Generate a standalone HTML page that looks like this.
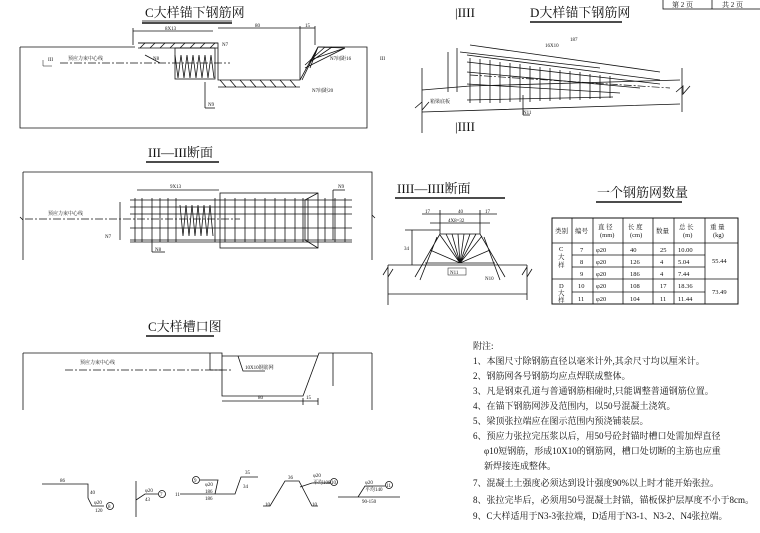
<!DOCTYPE html>
<html><head><meta charset="utf-8"><style>
body{margin:0;background:#fff;width:760px;height:533px;overflow:hidden}
svg{display:block}
text{font-family:"Liberation Serif","Noto Serif CJK SC","Noto Sans CJK SC",serif;fill:#111}
.t{font-size:13px}
.s{font-size:5px}
.n{font-size:9px}
line,path,polyline,rect,polygon,circle{stroke:#111;fill:none;stroke-width:0.8}
.th{stroke-width:0.5}
.cl{stroke-dasharray:8 2 2 2;stroke-width:0.7}
</style></head><body>
<svg width="760" height="533" viewBox="0 0 760 533">
<rect x="663" y="-1" width="98" height="10"/>
<line x1="712" y1="0" x2="712" y2="9"/>
<text x="672" y="7" style="font-size:7px">第 2 页</text>
<text x="722" y="7" style="font-size:7px">共 2 页</text>

<text class="t" x="145" y="17">C大样锚下钢筋网</text>
<line x1="142" y1="21" x2="232" y2="21"/><line x1="142" y1="23" x2="232" y2="23" style="stroke-width:1.5"/>
<path d="M20 47 H135 M20 47 V128 H367 V47 H318 L300 80 H218 V43 H138"/>
<path d="M138 43 L218 43 M138 48 L218 48"/>
<g class="th">
<path d="M140 48l5-5M150 48l5-5M160 48l5-5M170 48l5-5M180 48l5-5M190 48l5-5M200 48l5-5M210 48l5-5"/>
<path d="M218 87 H300 M220 80l6 7M230 80l6 7M240 80l6 7M250 80l6 7M260 80l6 7M270 80l6 7M280 80l6 7M290 80l6 7"/>
<polyline points="175,55 178,78 181,55 184,78 187,55 190,78 193,55 196,78 199,55 202,78 205,55 208,78 211,55 214,78"/>
<rect x="175" y="48" width="40" height="31"/>
<path d="M318 47 L345 48 M310 60 L345 48 M305 68 L345 48 M318 47 L310 68 M325 47 L305 65 M332 47 L310 62 M302 80 L318 47"/>
<line x1="133" y1="31" x2="213" y2="31"/><line x1="218" y1="28" x2="300" y2="28"/><line x1="300" y1="28" x2="315" y2="28"/>
<line x1="133" y1="28" x2="133" y2="45"/><line x1="300" y1="26" x2="300" y2="80"/><line x1="315" y1="26" x2="315" y2="45"/>
<line x1="205" y1="82" x2="205" y2="108"/><line x1="205" y1="108" x2="215" y2="108"/>
<line x1="145" y1="55" x2="160" y2="63"/>
</g>
<line class="cl" x1="60" y1="63" x2="230" y2="63"/>
<text class="s" x="68" y="60">预应力束中心线</text>
<text class="s" x="48" y="61">III</text><path class="th" d="M43 66 V60 M43 66 H52"/>
<text class="s" x="165" y="30">8X13</text><text class="s" x="255" y="27">80</text><text class="s" x="305" y="27">15</text>
<text class="s" x="153" y="60">N8</text><text class="s" x="208" y="106">N9</text><text class="s" x="222" y="46">N7</text>
<text class="s" x="312" y="92">N7间距20</text><text class="s" x="330" y="60">N7间距16</text>
<text class="s" x="380" y="60">III</text>

<text class="t" x="455" y="17">|IIII</text>
<text class="t" x="530" y="17">D大样锚下钢筋网</text>
<line x1="530" y1="22" x2="622" y2="22" style="stroke-width:1.5"/>
<path d="M422 68 V133 M682 68 V112 M422 90 L470 86 M470 86 L680 80 M422 112 L680 104 M415 108 l7-6 0 8 7-8 M676 92 l7-6 0 8 7-8"/>
<g class="th">
<path d="M467 55 L660 80 M467 62 L660 84 M467 72 L640 88 M467 84 L620 93 M467 100 L613 97 M470 45 L660 72 M460 52 L600 68"/>
<path d="M470 58V103M480 59V103M490 60V103M500 62V103M510 63V102M520 64V102M530 66V102M540 67V101M550 68V101M560 70V100M570 71V100M580 72V100M590 74V99M600 75V99M610 76V98"/>
<line x1="457" y1="48" x2="457" y2="92"/><line x1="448" y1="52" x2="448" y2="92"/>
<line x1="523" y1="95" x2="523" y2="115"/><line x1="523" y1="115" x2="530" y2="115"/>
</g>
<line class="cl" x1="470" y1="75" x2="670" y2="88"/>
<text class="s" x="570" y="41">187</text><text class="s" x="545" y="47">16X10</text>
<text class="s" x="430" y="103">箱梁底板</text><text class="s" x="523" y="114">N11</text>
<text class="t" x="455" y="131">|IIII</text>

<text class="t" x="148" y="157">III—III断面</text>
<line x1="146" y1="162" x2="219" y2="162" style="stroke-width:1.5"/>
<path d="M23 172 H372 V260 M23 172 V260 M23 220 l-3 -3 M372 215 l3 3"/>
<g class="th">
<path d="M130 200 H352 M130 207 H352 M130 214 H352 M130 228 H352 M130 240 H352 M130 242 H352"/>
<path d="M135 198V242M142 198V242M152 198V242M160 198V242M168 198V242M176 198V242M215 198V242M225 198V242M235 198V242M245 198V242M255 198V242M265 198V242M275 198V242M285 198V242M295 198V242M303 198V242M308 198V242M325 198V242M335 198V242M345 198V242"/>
<polyline points="180,205 183,236 186,205 189,236 192,205 195,236 198,205 201,236 204,205 207,236 210,205 213,236"/>
<rect x="220" y="193" width="98" height="55"/>
<path d="M305 200 L318 193 M305 240 L318 248 M305 200 V240"/>
<line x1="137" y1="190" x2="219" y2="190"/><line x1="120" y1="202" x2="120" y2="240"/>
<line x1="152" y1="240" x2="152" y2="252"/><line x1="152" y1="252" x2="165" y2="252"/>
<line x1="333" y1="190" x2="345" y2="190"/><line x1="333" y1="190" x2="333" y2="240"/>
</g>
<line class="cl" x1="25" y1="219" x2="240" y2="219"/>
<text class="s" x="48" y="215">预应力束中心线</text>
<text class="s" x="170" y="188">9X13</text><text class="s" x="105" y="238">N7</text><text class="s" x="155" y="251">N8</text><text class="s" x="338" y="188">N9</text>

<text class="t" x="397" y="193">IIII—IIII断面</text>
<line x1="395" y1="198" x2="505" y2="198" style="stroke-width:1.5"/>
<path d="M388 265 H527 M388 294 H527 M388 265 V305 M527 265 V300 M383 275 l5-8 0 10 5-8 M522 275 l5-8 0 10 5-8"/>
<path d="M440 234 H480 L505 277 M440 234 L415 277 M437 237 L420 280 M484 237 L500 280"/>
<g class="th">
<path d="M460 263 L440 235 M460 263 L446 234 M460 263 L452 234 M460 263 L458 234 M460 263 L464 234 M460 263 L470 234 M460 263 L476 234 M460 263 L482 236 M460 263 L430 250 M460 263 L425 263 M460 263 L490 250 M460 263 L495 263"/>
<path d="M422 214 H497 M440 210 V234 M480 210 V234 M430 223 H490 M412 230 V265 M405 230 H440"/>
</g>
<text class="s" x="425" y="213">17</text><text class="s" x="458" y="213">40</text><text class="s" x="485" y="213">17</text><text class="s" x="448" y="222">4X8=32</text>
<text class="s" x="404" y="250">34</text>
<rect x="448" y="268" width="18" height="7" class="th"/><text class="s" x="450" y="274">N11</text>
<text class="s" x="485" y="280">N10</text>

<text class="t" x="597" y="197">一个钢筋网数量</text>
<line x1="596" y1="202" x2="682" y2="202" style="stroke-width:1.5"/>
<g class="th">
<rect x="552" y="218" width="186" height="86" style="stroke-width:1"/>
<path d="M572 218V304M593 218V304M623 218V304M653 218V304M674 218V304M705 218V304"/>
<path d="M552 243H738M572 255H705M572 267H705M552 279H738M572 292H705"/>
</g>
<g style="font-size:6.5px">
<text x="555" y="233">类别</text><text x="575" y="233">编号</text><text x="598" y="229">直 径</text><text x="600" y="237">(mm)</text><text x="628" y="229">长 度</text><text x="630" y="237">(cm)</text><text x="656" y="233">数量</text><text x="679" y="229">总 长</text><text x="683" y="237">(m)</text><text x="710" y="229">重 量</text><text x="713" y="237">(kg)</text>
<text x="559" y="251">C</text><text x="558" y="259">大</text><text x="558" y="267">样</text>
<text x="559" y="288">D</text><text x="558" y="295">大</text><text x="558" y="302">样</text>
<text x="580" y="252">7</text><text x="596" y="252">φ20</text><text x="630" y="252">40</text><text x="660" y="252">25</text><text x="678" y="252">10.00</text>
<text x="580" y="264">8</text><text x="596" y="264">φ20</text><text x="630" y="264">126</text><text x="660" y="264">4</text><text x="678" y="264">5.04</text>
<text x="580" y="276">9</text><text x="596" y="276">φ20</text><text x="630" y="276">186</text><text x="660" y="276">4</text><text x="678" y="276">7.44</text>
<text x="578" y="288">10</text><text x="596" y="288">φ20</text><text x="630" y="288">108</text><text x="660" y="288">17</text><text x="678" y="288">18.36</text>
<text x="578" y="301">11</text><text x="596" y="301">φ20</text><text x="630" y="301">104</text><text x="660" y="301">11</text><text x="678" y="301">11.44</text>
<text x="712" y="263">55.44</text><text x="712" y="294">73.49</text>
</g>

<text class="t" x="148" y="331">C大样槽口图</text>
<line x1="146" y1="336" x2="214" y2="336" style="stroke-width:1.5"/>
<path d="M23 353 H222 V396 H303 L319 353 H372 M23 353 V410 M372 353 V410 M222 370 H210"/>
<g class="th">
<path d="M222 356 H318 M238 356 L243 371 H265 M333 353 V386 M210 353 V370 M222 401 H318 M303 398 V405 M318 398 V405"/>
</g>
<line class="cl" x1="65" y1="370" x2="232" y2="370"/>
<text class="s" x="80" y="364">预应力束中心线</text>
<text class="s" x="245" y="369">10X10钢筋网</text>
<text class="s" x="258" y="399">80</text><text class="s" x="306" y="399">15</text>

<g class="n">
<text x="473" y="349">附注:</text>
<text x="473" y="364">1、本图尺寸除钢筋直径以毫米计外,其余尺寸均以厘米计。</text>
<text x="473" y="379">2、钢筋网各号钢筋均应点焊联成整体。</text>
<text x="473" y="394">3、凡是钢束孔道与普通钢筋相碰时,只能调整普通钢筋位置。</text>
<text x="473" y="409">4、在锚下钢筋网涉及范围内，以50号混凝土浇筑。</text>
<text x="473" y="424">5、梁顶张拉端应在图示范围内预浇铺装层。</text>
<text x="473" y="439">6、预应力张拉完压浆以后，用50号砼封锚时槽口处需加焊直径</text>
<text x="484" y="454">φ10短钢筋，形成10X10的钢筋网，槽口处切断的主筋也应重</text>
<text x="484" y="469">新焊接连成整体。</text>
<text x="473" y="486">7、混凝土土强度必须达到设计强度90%以上时才能开始张拉。</text>
<text x="473" y="503">8、张拉完毕后，必须用50号混凝土封锚，锚板保护层厚度不小于8cm。</text>
<text x="473" y="519">9、C大样适用于N3-3张拉端，D适用于N3-1、N3-2、N4张拉端。</text>
</g>

<path d="M42 484 H88 V498 L92 506 H104"/><circle cx="110" cy="506" r="3.5"/>
<path d="M136 481 V517 M136 500 L145 494 H158"/><circle cx="162" cy="494" r="3.5"/>
<path d="M180 494 H235 L241 477 H258 M215 494 L218 480 H200"/><circle cx="196" cy="480" r="3.5"/>
<path d="M263 506 H270 L285 481 H299 L312 506 H318 M300 487 L312 483 H330"/><circle cx="334" cy="482" r="3.5"/>
<path d="M338 497 H400 M358 497 L365 486 H385"/><circle cx="389" cy="485" r="3.5"/>
<g class="s">
<text x="60" y="482">86</text><text x="90" y="494">40</text><text x="94" y="504">φ20</text><text x="95" y="512">120</text><text x="108" y="508">8</text>
<text x="145" y="492">φ20</text><text x="145" y="501">43</text><text x="160" y="496">7</text>
<text x="175" y="496">11</text><text x="205" y="486">φ20</text><text x="205" y="493">186</text><text x="205" y="500">186</text><text x="245" y="474">35</text><text x="243" y="488">34</text><text x="194" y="482">9</text>
<text x="265" y="506">10</text><text x="288" y="479">36</text><text x="313" y="477">φ20</text><text x="313" y="484">平均108</text><text x="312" y="506">10</text><text x="331" y="484">10</text>
<text x="365" y="484">φ20</text><text x="365" y="491">平均140</text><text x="362" y="503">90-150</text><text x="386" y="487">11</text>
</g>
</svg>
</body></html>
